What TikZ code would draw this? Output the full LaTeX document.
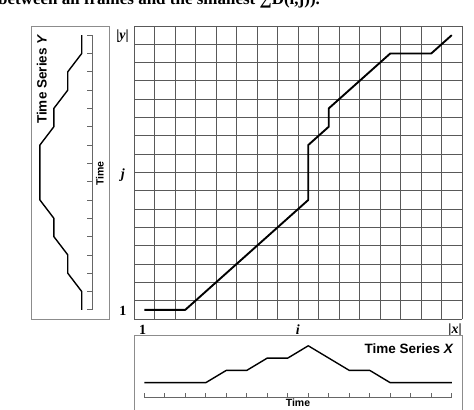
\documentclass[tikz,border=0pt]{standalone}
\usepackage{amsmath}
\usepackage{fontspec}
\setsansfont{Liberation Sans}
\newfontfamily\captionfont{Liberation Serif}

\tikzset{
  cellline/.style={line width=0.9pt, draw=black!65},
  panel/.style={line width=0.9pt, draw=black!45},
  series/.style={line width=1.4pt, line join=round},
  warp/.style={line width=1.9pt, line join=round},
  tickline/.style={line width=0.8pt, draw=black!60},
  title/.style={font=\sffamily\bfseries\fontsize{13.5}{15}\selectfont, inner sep=0pt},
  timelabel/.style={font=\sffamily\bfseries\fontsize{10.5}{12}\selectfont, inner sep=0pt},
  idxlabel/.style={font=\captionfont\bfseries\fontsize{14}{16}\selectfont, inner sep=0pt}
}

\begin{document}
\begin{tikzpicture}[x=20.5pt, y=18.3125pt]

  \useasboundingbox (-6.537,-4.915) rectangle (16.585,17.42);
  \clip (-6.537,-4.915) rectangle (16.585,17.42);

  % cut-off caption line
  \node[anchor=base west, inner sep=0pt, font=\captionfont\bfseries\fontsize{17}{19}\selectfont] (caption)
    at (-6.64,17.2) {between all frames and the smallest ∑D(i,j)).};

  % cost matrix
  \draw[cellline, step=1] (0,0) grid (16,16);

  % warping path
  \draw[warp] (0.5,0.5) -- (2.5,0.5) -- (8.5,6.5) -- (8.5,9.5) -- (9.5,10.5)
    -- (9.5,11.5) -- (12.5,14.5) -- (14.5,14.5) -- (15.5,15.5);

  % index labels
  \node[idxlabel] (ytop) at (-0.56,15.45) {|\textit{y}|};
  \node[idxlabel] (jlab) at (-0.54,7.86)  {\textit{j}};
  \node[idxlabel] (yone) at (-0.54,0.42)  {1};
  \node[idxlabel] (xone) at (0.42,-0.6)   {1};
  \node[idxlabel] (ilab) at (7.99,-0.6)   {\textit{i}};
  \node[idxlabel] (xtop) at (15.66,-0.6)  {|\textit{x}|};

  % Time Series Y
  \draw[panel] (-5,0) rectangle (-1.2,16);
  \draw[tickline] (-2.03,0.5) -- (-2.03,15.5);
  \foreach \j in {1,...,16}
    \draw[tickline] (-2.03,\j-0.5) -- (-2.31,\j-0.5);
  \foreach \v [count=\j] in {0,0,1,1,2,2,3,3,3,3,2,2,1,1,0,0}
    \coordinate (y\j) at ({-2.55-0.68*\v},\j-0.5);
  \draw[series] (y1) \foreach \j in {2,...,16} {-- (y\j)};
  \node[title, rotate=90, anchor=east] (ytitle) at (-4.5,15.55) {Time Series \textit{Y}};
  \node[timelabel, rotate=90] (ytime) at (-1.66,7.95) {Time};

  % Time Series X
  \draw[panel] (0,-0.874) rectangle (16,-5.2);
  \draw[tickline] (0.5,-4.276) -- (15.5,-4.276);
  \foreach \i in {1,...,16}
    \draw[tickline] (\i-0.5,-4.276) -- (\i-0.5,-4.057);
  \foreach \v [count=\i] in {0,0,0,0,1,1,2,2,3,2,1,1,0,0,0,0}
    \coordinate (x\i) at (\i-0.5,{-3.478+0.672*\v});
  \draw[series] (x1) \foreach \i in {2,...,16} {-- (x\i)};
  \node[title, anchor=east] (xtitle) at (15.6,-1.64) {Time Series \textit{X}};
  \node[timelabel] (xtime) at (8,-4.59) {Time};

\end{tikzpicture}
\end{document}
